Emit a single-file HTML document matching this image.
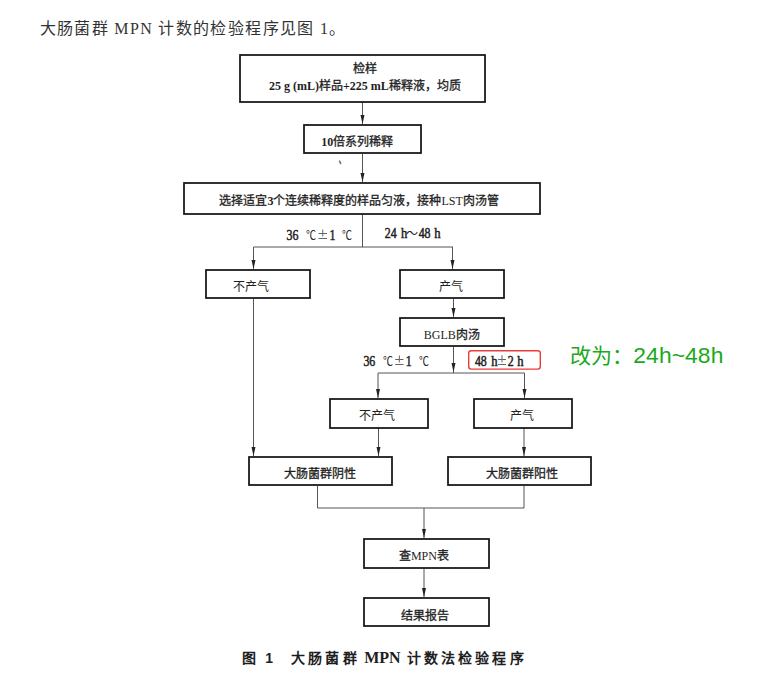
<!DOCTYPE html>
<html lang="zh-CN"><head><meta charset="utf-8">
<style>
html,body{margin:0;padding:0;background:#fff;width:768px;height:685px;overflow:hidden}
svg{position:absolute;left:0;top:0;font-family:"Liberation Serif",serif}
line{stroke:#555;stroke-width:1}
path{fill:#222}
path.pm{fill:none;stroke:#666;stroke-width:1}
rect{fill:none;stroke:#151515;stroke-width:1.75}
rect.red{stroke:#ee3b3b;stroke-width:1.4}
text{fill:#1e1e1e;white-space:pre}
</style></head><body>
<svg width="768" height="685" viewBox="0 0 768 685">
<line x1="362.5" y1="102" x2="362.5" y2="124"/>
<line x1="362.5" y1="154" x2="362.5" y2="182"/>
<line x1="362.5" y1="214" x2="362.5" y2="247"/>
<line x1="253.5" y1="247" x2="453" y2="247"/>
<line x1="253.5" y1="247" x2="253.5" y2="269"/>
<line x1="452.5" y1="247" x2="452.5" y2="269"/>
<line x1="453.5" y1="299" x2="453.5" y2="317"/>
<line x1="453.5" y1="347" x2="453.5" y2="373"/>
<line x1="378" y1="373" x2="524.5" y2="373"/>
<line x1="378" y1="373" x2="378" y2="398"/>
<line x1="524.5" y1="373" x2="524.5" y2="398"/>
<line x1="253.5" y1="299" x2="253.5" y2="456"/>
<line x1="378.5" y1="428" x2="378.5" y2="456"/>
<line x1="524" y1="428" x2="524" y2="456"/>
<line x1="317.5" y1="486" x2="317.5" y2="508"/>
<line x1="317.5" y1="508" x2="524" y2="508"/>
<line x1="524" y1="486" x2="524" y2="508"/>
<line x1="424" y1="508" x2="424" y2="538"/>
<line x1="424" y1="569" x2="424" y2="597"/>
<path class="pm" d="M318.5 233.5H327M322.75 229.5V236.5M318.5 238.5H327"/>
<path class="pm" d="M395.2 359.5H403.5M399.35 355.5V362.5M395.2 364.5H403.5"/>
<path class="pm" d="M498 359.5H506M502.0 355.2V362.5M498 364.5H506"/>
<path class="pm" style="stroke:#777;stroke-width:1.6;stroke-linecap:round" d="M339.6 161.2L340.6 163.4"/>
<path d="M360.5 115L364.5 115L362.5 124Z"/>
<path d="M360.5 173L364.5 173L362.5 182Z"/>
<path d="M251.5 260L255.5 260L253.5 269Z"/>
<path d="M450.5 260L454.5 260L452.5 269Z"/>
<path d="M451.5 308L455.5 308L453.5 317Z"/>
<path d="M451.5 363L455.5 363L453.5 372Z"/>
<path d="M376 389L380 389L378 398Z"/>
<path d="M522.5 389L526.5 389L524.5 398Z"/>
<path d="M251.5 447L255.5 447L253.5 456Z"/>
<path d="M376.5 447L380.5 447L378.5 456Z"/>
<path d="M522 447L526 447L524 456Z"/>
<path d="M422 529L426 529L424 538Z"/>
<path d="M422 588L426 588L424 597Z"/>
<rect x="240" y="55" width="245" height="47"/>
<rect x="304" y="125" width="117" height="28"/>
<rect x="184" y="183" width="356" height="31"/>
<rect x="206" y="270" width="104" height="28"/>
<rect x="400" y="270" width="104" height="28"/>
<rect x="400" y="318" width="104" height="28"/>
<rect x="330" y="399" width="98" height="29"/>
<rect x="474" y="399" width="98" height="29"/>
<rect x="249" y="457" width="143" height="28"/>
<rect x="448" y="457" width="143" height="28"/>
<rect x="364" y="539" width="125" height="29"/>
<rect x="364" y="598" width="125" height="28"/>
<rect class="red" x="468.7" y="350.7" width="71.6" height="18.4" rx="2.5"/>
<text x="39.60" y="34.12" style="font-size:16px;letter-spacing:1.35px;fill:#333">大肠菌群 MPN 计数的检验程序见图 1。</text>
<text x="352.50" y="72.90" style="font-size:12px;font-weight:500;stroke:#1e1e1e;stroke-width:0.3">检样</text>
<text x="268.98" y="90.14" style="font-size:12px;font-weight:500;stroke:#1e1e1e;stroke-width:0.3"><tspan font-weight='bold' stroke-width='0'>25 g (mL)</tspan>样品<tspan font-weight='bold' stroke-width='0'>+225 mL</tspan>稀释液，均质</text>
<text x="321.34" y="145.52" style="font-size:12px;font-weight:500;stroke:#1e1e1e;stroke-width:0.3"><tspan font-weight='bold' stroke-width='0'>10</tspan>倍系列稀释</text>
<text x="219.38" y="204.54" style="font-size:12px;font-weight:500;stroke:#1e1e1e;stroke-width:0.3">选择适宜<tspan font-weight='bold' stroke-width='0'>3</tspan>个连续稀释度的样品匀液，接种<tspan font-weight='normal' stroke-width='0'>LST</tspan>肉汤管</text>
<text transform="translate(286.62,239.50) scale(0.85,1)" style="font-size:14px;letter-spacing:-0.2px;stroke:#1e1e1e;stroke-width:0.5">36</text>
<text transform="translate(306.24,239.50) scale(0.8,1)" style="font-size:12.5px;fill:#2a2a2a">℃</text>
<text transform="translate(329.43,239.50) scale(0.85,1)" style="font-size:14px;letter-spacing:-0.2px;stroke:#1e1e1e;stroke-width:0.5">1</text>
<text transform="translate(342.10,239.50) scale(0.8,1)" style="font-size:12.5px;fill:#2a2a2a">℃</text>
<text transform="translate(384.86,238.25) scale(0.85,1)" style="font-size:14px;letter-spacing:-0.2px;stroke:#1e1e1e;stroke-width:0.5">24</text>
<text transform="translate(401.00,238.25) scale(0.9,1)" style="font-size:14px;letter-spacing:-0.2px;stroke:#1e1e1e;stroke-width:0.5">h</text>
<text x="406.22" y="238.25" style="font-size:12px">～</text>
<text transform="translate(418.75,238.25) scale(0.85,1)" style="font-size:14px;letter-spacing:-0.2px;stroke:#1e1e1e;stroke-width:0.5">48</text>
<text transform="translate(434.36,238.25) scale(0.9,1)" style="font-size:14px;letter-spacing:-0.2px;stroke:#1e1e1e;stroke-width:0.5">h</text>
<text x="232.96" y="291.28" style="font-size:12px;font-weight:500">不产气</text>
<text x="439.10" y="291.40" style="font-size:12px;font-weight:500">产气</text>
<text x="423.72" y="338.66" style="font-size:12px">BGLB<tspan style='font-weight:500;stroke:#1e1e1e;stroke-width:0.3'>肉汤</tspan></text>
<text transform="translate(363.50,365.50) scale(0.85,1)" style="font-size:14px;letter-spacing:-0.2px;stroke:#1e1e1e;stroke-width:0.5">36</text>
<text transform="translate(383.26,365.50) scale(0.8,1)" style="font-size:12.5px;fill:#2a2a2a">℃</text>
<text transform="translate(405.81,365.50) scale(0.85,1)" style="font-size:14px;letter-spacing:-0.2px;stroke:#1e1e1e;stroke-width:0.5">1</text>
<text transform="translate(418.60,365.50) scale(0.8,1)" style="font-size:12.5px;fill:#2a2a2a">℃</text>
<text transform="translate(475.00,365.50) scale(0.85,1)" style="font-size:14px;letter-spacing:-0.2px;stroke:#1e1e1e;stroke-width:0.5">48</text>
<text transform="translate(491.23,365.50) scale(0.9,1)" style="font-size:14px;letter-spacing:-0.2px;stroke:#1e1e1e;stroke-width:0.5">h</text>
<text transform="translate(507.86,365.50) scale(0.85,1)" style="font-size:14px;letter-spacing:-0.2px;stroke:#1e1e1e;stroke-width:0.5">2</text>
<text transform="translate(517.28,365.50) scale(0.9,1)" style="font-size:14px;letter-spacing:-0.2px;stroke:#1e1e1e;stroke-width:0.5">h</text>
<text x="569.70" y="362.72" style="font-family:'Liberation Sans',sans-serif;fill:#19a919;font-size:21px;font-weight:350">改为：</text>
<text x="633.34" y="362.72" style="font-family:'Liberation Sans',sans-serif;fill:#19a919;font-size:22.8px;letter-spacing:0.1px">24h~48h</text>
<text x="358.72" y="419.90" style="font-size:12px;font-weight:500">不产气</text>
<text x="509.96" y="420.40" style="font-size:12px;font-weight:500">产气</text>
<text x="283.76" y="477.90" style="font-size:12px;font-weight:500;stroke:#1e1e1e;stroke-width:0.3">大肠菌群阴性</text>
<text x="486.38" y="477.90" style="font-size:12px;font-weight:500;stroke:#1e1e1e;stroke-width:0.3">大肠菌群阳性</text>
<text x="398.88" y="559.78" style="font-size:12px;font-weight:500;stroke:#1e1e1e;stroke-width:0.3">查<tspan font-weight='normal' stroke-width='0'>MPN</tspan>表</text>
<text x="401.26" y="620.16" style="font-size:12px;font-weight:500;stroke:#1e1e1e;stroke-width:0.3">结果报告</text>
<text x="242.48" y="662.52" style="font-size:14px;font-weight:bold">图</text>
<text x="265.35" y="662.52" style="font-size:14px;font-weight:bold;font-family:'Liberation Sans',sans-serif">1</text>
<text x="291.24" y="662.52" style="font-size:14px;font-weight:bold;letter-spacing:3.1px">大肠菌群</text>
<text x="364.24" y="662.52" style="font-size:16px;font-weight:bold">MPN</text>
<text x="407.00" y="662.52" style="font-size:14px;font-weight:bold;letter-spacing:3.1px">计数法检验程序</text>
</svg>
</body></html>
